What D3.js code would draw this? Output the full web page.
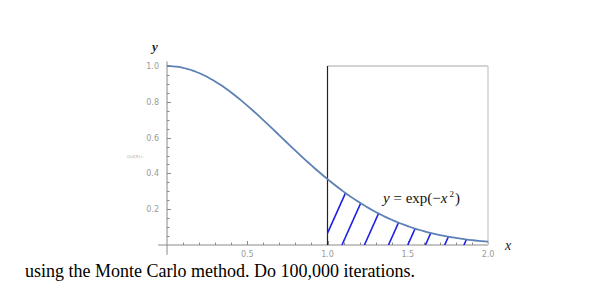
<!DOCTYPE html>
<html>
<head>
<meta charset="utf-8">
<script src="https://cdn.jsdelivr.net/npm/d3@7"></script>
<style>
  body { margin: 0; background: #fff; }
  svg { display: block; }
</style>
</head>
<body>
<div id="chart"></div>
<script>
var
width = 615,
height = 291;

// curve samples: x values, y = exp(-x^2)
var curveX = d3.range(0, 2.0001, 0.02);
var curveY = curveX.map(function(x){ return Math.exp(-x * x); });

// y ticks and x ticks
var yMajor = [0.2, 0.4, 0.6, 0.8, 1.0];
var yMinor = d3.range(0.05, 1.0001, 0.05);
var xMajor = [0.5, 1.0, 1.5, 2.0];
var xMinor = d3.range(0.1, 2.0001, 0.1);

// hatch lines: x where each line meets y = 0
var hatchBase = [0.967, 1.09, 1.23, 1.38, 1.50, 1.61, 1.73, 1.85];
var hatchSlope = 2.0;

// box region
var boxX = [1, 2], boxY = [0, 1];

var x = d3.scaleLinear().domain([0, 2]).range([167, 488]);
var y = d3.scaleLinear().domain([0, 1]).range([245, 66]);

var svg = d3.select('#chart').append('svg').attr('width', width).attr('height', height);

var axisColor = '#8a8a8a', tickText = '#9a9a9a';

// axes lines
svg.append('line')
  .attr('x1', x(-0.055)).attr('x2', x(2.0)).attr('y1', y(0)).attr('y2', y(0))
  .attr('stroke', axisColor).attr('stroke-width', 1);
svg.append('line')
  .attr('x1', x(0)).attr('x2', x(0)).attr('y1', y(-0.055)).attr('y2', y(1.025))
  .attr('stroke', axisColor).attr('stroke-width', 1);

// y ticks
svg.selectAll('.ytick').data(yMinor).enter().append('line')
  .attr('x1', x(0)).attr('x2', function(d){
    return x(0) + (yMajor.some(function(m){ return Math.abs(m - d) < 1e-6; }) ? 4 : 2.5);
  })
  .attr('y1', function(d){ return Math.round(y(d)) + 0.5; })
  .attr('y2', function(d){ return Math.round(y(d)) + 0.5; })
  .attr('stroke', axisColor).attr('stroke-width', 1);

svg.selectAll('.ylab').data(yMajor).enter().append('text')
  .attr('x', x(0) - 8).attr('y', function(d){ return y(d) + 3; })
  .attr('text-anchor', 'end')
  .attr('font-family', 'DejaVu Sans, sans-serif').attr('font-size', 8)
  .attr('fill', tickText)
  .text(function(d){ return d.toFixed(1); });

// x ticks
svg.selectAll('.xtick').data(xMinor).enter().append('line')
  .attr('x1', function(d){ return Math.round(x(d)) + 0.5; })
  .attr('x2', function(d){ return Math.round(x(d)) + 0.5; })
  .attr('y1', y(0))
  .attr('y2', function(d){
    return y(0) - (xMajor.some(function(m){ return Math.abs(m - d) < 1e-6; }) ? 4 : 2.5);
  })
  .attr('stroke', axisColor).attr('stroke-width', 1);

svg.selectAll('.xlab').data(xMajor).enter().append('text')
  .attr('x', function(d){ return x(d); }).attr('y', y(0) + 12)
  .attr('text-anchor', 'middle')
  .attr('font-family', 'DejaVu Sans, sans-serif').attr('font-size', 8)
  .attr('fill', tickText)
  .text(function(d){ return d.toFixed(1); });

// axis labels
svg.append('text').attr('x', 152).attr('y', 51)
  .attr('font-family', 'Liberation Serif, serif').attr('font-style', 'italic')
  .attr('font-weight', 'bold')
  .attr('font-size', 13).attr('fill', '#222').text('y');
svg.append('text').attr('x', 505).attr('y', 250)
  .attr('font-family', 'Liberation Serif, serif').attr('font-style', 'italic')
  .attr('font-size', 14).attr('fill', '#222').text('x');

// tiny out label
svg.append('text').attr('x', 127).attr('y', 158)
  .attr('font-family', 'DejaVu Sans, sans-serif').attr('font-size', 4)
  .attr('fill', '#aaa').text('Out[5]=');

// box
svg.append('line')
  .attr('x1', x(boxX[0])).attr('x2', x(boxX[1])).attr('y1', y(boxY[1])).attr('y2', y(boxY[1]))
  .attr('stroke', '#a8a8a8').attr('stroke-width', 1);
svg.append('line')
  .attr('x1', x(boxX[1])).attr('x2', x(boxX[1])).attr('y1', y(boxY[1])).attr('y2', y(boxY[0]))
  .attr('stroke', '#d0d0d0').attr('stroke-width', 1.5);
svg.append('line')
  .attr('x1', x(boxX[0])).attr('x2', x(boxX[0])).attr('y1', y(boxY[1])).attr('y2', y(boxY[0]))
  .attr('stroke', '#222').attr('stroke-width', 1.2);

// clip region under curve between 1 and 2
var under = curveX.map(function(d, i){ return [d, curveY[i]]; })
  .filter(function(p){ return p[0] >= 1 - 1e-9; });
var area = d3.area()
  .x(function(p){ return x(p[0]); })
  .y0(y(0))
  .y1(function(p){ return y(p[1]); });
svg.append('clipPath').attr('id', 'under')
  .append('path').attr('d', area(under));

svg.append('g').attr('clip-path', 'url(#under)')
  .selectAll('line').data(hatchBase).enter().append('line')
  .attr('x1', function(d){ return x(d); })
  .attr('y1', y(0))
  .attr('x2', function(d){ return x(d + 0.5 / hatchSlope); })
  .attr('y2', y(0.5))
  .attr('stroke', '#1f1fe6').attr('stroke-width', 1.6);

// curve
var line = d3.line()
  .x(function(d, i){ return x(curveX[i]); })
  .y(function(d){ return y(d); })
  .curve(d3.curveBasis);
svg.append('path').datum(curveY)
  .attr('d', line)
  .attr('fill', 'none')
  .attr('stroke', '#5e81b5').attr('stroke-width', 1.8);

// formula label
var f = svg.append('text').attr('x', 383).attr('y', 203)
  .attr('font-family', 'Liberation Serif, serif').attr('font-size', 15).attr('fill', '#111');
f.append('tspan').attr('font-style', 'italic').text('y');
f.append('tspan').text(' = exp(\u2212');
f.append('tspan').attr('font-style', 'italic').text('x');
f.append('tspan').attr('font-size', 9).attr('dy', -6).attr('dx', 2).text('2');
f.append('tspan').attr('dy', 6).attr('dx', 1).text(')');

// caption
svg.append('text').attr('x', 25).attr('y', 277)
  .attr('font-family', 'Liberation Serif, serif').attr('font-size', 18).attr('fill', '#000')
  .text('using the Monte Carlo method. Do 100,000 iterations.');
</script>
</body>
</html>
